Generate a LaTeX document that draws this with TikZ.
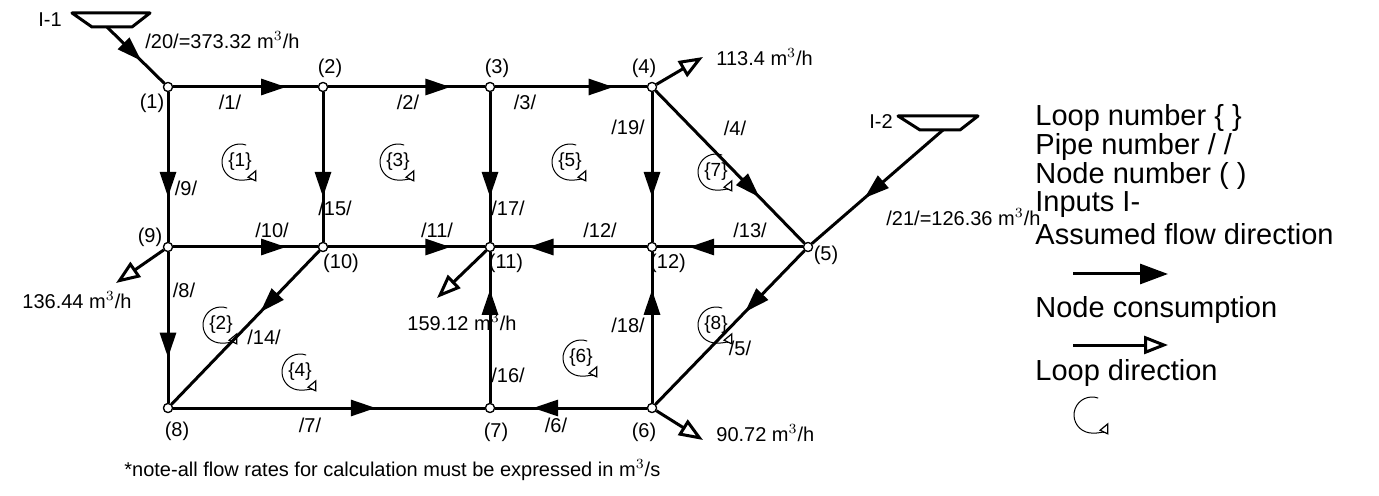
\documentclass[tikz,border=0pt]{standalone}
\usepackage{fontspec}
\setmainfont{Liberation Sans}
\usetikzlibrary{arrows.meta,decorations.markings,calc}
\begin{document}
\begin{tikzpicture}[x=0.5pt,y=0.5pt,
  pipe/.style={line width=1.5pt,postaction={decorate},decoration={markings,mark=at position #1 with {\arrow{Triangle[length=12.5pt,width=8pt]}}}},
  pipe/.default=0.78,
  cons/.style={line width=1.5pt,-{Triangle[open,length=12pt,width=9pt,line width=1.5pt]}},
  nd/.style={circle,draw,fill=white,line width=0.6pt,inner sep=0pt,minimum size=4.5pt},
  lb/.style={font=\fontsize{10}{12}\selectfont,inner sep=1pt},
  lg/.style={font=\fontsize{14.5}{16}\selectfont,anchor=west,inner sep=0pt},
  loopa/.style={line width=0.5pt,-{Triangle[open,length=5.5pt,width=5pt,line width=0.6pt]}},
  tank/.style={line width=1.5pt,line join=round}]
\useasboundingbox (0,0) rectangle (1379,-496);
\newcommand{\loopsym}[3]{%
  \draw[loopa] ($(#1,#2)+(70:9pt)$) arc[start angle=70,end angle=335,radius=9pt];
  \node[lb,font=\fontsize{9.5}{10}\selectfont] at (#1,#2) {#3};}
% nodes
\node[nd] (n1) at (168,-87) {};
\node[nd] (n2) at (323,-87) {};
\node[nd] (n3) at (490,-87) {};
\node[nd] (n4) at (652,-87) {};
\node[nd] (n5) at (808,-247) {};
\node[nd] (n9) at (168,-247) {};
\node[nd] (n10) at (323,-247) {};
\node[nd] (n11) at (490,-247) {};
\node[nd] (n12) at (652,-247) {};
\node[nd] (n8) at (168,-408) {};
\node[nd] (n7) at (490,-408) {};
\node[nd] (n6) at (652,-408) {};
% tanks
\draw[tank] (72,-13) -- (150,-13) -- (132,-27) -- (92,-27) -- cycle;
\draw[tank] (898,-116) -- (978,-116) -- (960,-130) -- (920,-130) -- cycle;
\coordinate (t1) at (107,-27);
\coordinate (t2) at (943,-130);
% pipes
\draw[pipe=0.6] (t1) -- (n1);
\draw[pipe=0.6] (t2) -- (n5);
\draw[pipe] (n1) -- (n2);
\draw[pipe] (n2) -- (n3);
\draw[pipe] (n3) -- (n4);
\draw[pipe=0.7] (n1) -- (n9);
\draw[pipe=0.7] (n2) -- (n10);
\draw[pipe=0.7] (n3) -- (n11);
\draw[pipe=0.7] (n4) -- (n12);
\draw[pipe=0.7] (n4) -- (n5);
\draw[pipe] (n9) -- (n10);
\draw[pipe] (n10) -- (n11);
\draw[pipe] (n12) -- (n11);
\draw[pipe] (n5) -- (n12);
\draw[pipe=0.7] (n9) -- (n8);
\draw[pipe=0.4] (n10) -- (n8);
\draw[pipe=0.75] (n7) -- (n11);
\draw[pipe=0.75] (n6) -- (n12);
\draw[pipe=0.4] (n5) -- (n6);
\draw[pipe=0.65] (n8) -- (n7);
\draw[pipe=0.75] (n6) -- (n7);
\foreach \n in {n1,n2,n3,n4,n5,n6,n7,n8,n9,n10,n11,n12} \node[nd] at (\n) {};
% consumptions
\coordinate (c4) at (703,-57);
\coordinate (c9) at (116,-283);
\coordinate (c11) at (437,-298);
\coordinate (c6) at (703,-440);
\draw[cons] (n4) -- (c4);
\draw[cons] (n9) -- (c9);
\draw[cons] (n11) -- (c11);
\draw[cons] (n6) -- (c6);
% loops
\loopsym{240}{-162}{\{1\}}
\loopsym{398}{-162}{\{3\}}
\loopsym{570}{-162}{\{5\}}
\loopsym{716}{-172}{\{7\}}
\loopsym{221}{-325}{\{2\}}
\loopsym{300}{-372}{\{4\}}
\loopsym{581}{-358}{\{6\}}
\loopsym{716}{-325}{\{8\}}
% pipe labels
\node[lb] at (230,-102) {/1/};
\node[lb] at (408,-102) {/2/};
\node[lb] at (525,-102) {/3/};
\node[lb] at (628,-127) {/19/};
\node[lb] at (735,-128) {/4/};
\node[lb] at (186,-188) {/9/};
\node[lb] at (335,-208) {/15/};
\node[lb] at (508,-208) {/17/};
\node[lb] at (272,-230) {/10/};
\node[lb] at (437,-230) {/11/};
\node[lb] at (600,-230) {/12/};
\node[lb] at (750,-230) {/13/};
\node[lb] at (184,-290) {/8/};
\node[lb] at (264,-337) {/14/};
\node[lb] at (508,-375) {/16/};
\node[lb] at (628,-325) {/18/};
\node[lb] at (740,-348) {/5/};
\node[lb] at (310,-425) {/7/};
\node[lb] at (556,-425) {/6/};
% node labels
\node[lb] at (152,-103) {(1)};
\node[lb] at (330,-68) {(2)};
\node[lb] at (497,-68) {(3)};
\node[lb] at (644,-68) {(4)};
\node[lb] at (826,-255) {(5)};
\node[lb] at (150,-237) {(9)};
\node[lb] at (341,-263) {(10)};
\node[lb] at (506,-263) {(11)};
\node[lb] at (668,-263) {(12)};
\node[lb] at (177,-431) {(8)};
\node[lb] at (496,-432) {(7)};
\node[lb] at (644,-432) {(6)};
% other text
\node[lb] at (50,-20) {I-1};
\node[lb,anchor=west] at (143,-40) {/20/=373.32 m$^3$/h};
\node[lb,anchor=west] at (714,-57) {113.4 m$^3$/h};
\node[lb] at (881,-122) {I-2};
\node[lb,anchor=west] at (884,-217) {/21/=126.36 m$^3$/h};
\node[lb,anchor=west] at (20,-300) {136.44 m$^3$/h};
\node[lb,anchor=west] at (405,-322) {159.12 m$^3$/h};
\node[lb,anchor=west] at (714,-433) {90.72 m$^3$/h};
\node[lb,anchor=west] at (122,-470) {*note-all flow rates for calculation must be expressed in m$^3$/s};
% legend
\node[lg] at (1035,-118) {Loop number \{ \}};
\node[lg] at (1035,-147) {Pipe number / /};
\node[lg] at (1035,-176) {Node number ( )};
\node[lg] at (1035,-205) {Inputs I-};
\node[lg] at (1035,-234) {Assumed flow direction};
\coordinate (la1) at (1073,-274);
\coordinate (la2) at (1168,-274);
\draw[line width=1.5pt,-{Triangle[length=14pt,width=10pt]}] (la1) -- (la2);
\node[lg] at (1035,-310) {Node consumption};
\coordinate (lb1) at (1073,-345);
\coordinate (lb2) at (1168,-345);
\draw[cons] (lb1) -- (lb2);
\node[lg] at (1035,-373) {Loop direction};
\draw[loopa] ($(1092,-415)+(70:9pt)$) arc[start angle=70,end angle=335,radius=9pt];
\end{tikzpicture}
\end{document}
